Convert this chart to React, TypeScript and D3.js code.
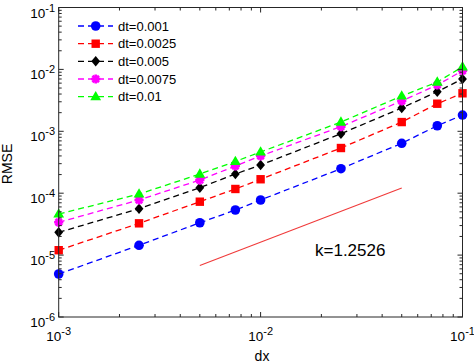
import React from "react";
import * as d3 from "d3";

const dxValues = [0.001, 0.0025, 0.005, 0.0075, 0.01, 0.025, 0.05, 0.075, 0.1];
const seriesNames = ["dt=0.001", "dt=0.0025", "dt=0.005", "dt=0.0075", "dt=0.01"];
const rmse001 = [4.95e-6, 1.44e-5, 3.33e-5, 5.35e-5, 7.77e-5, 2.49e-4, 6.4e-4, 1.23e-3, 1.83e-3];
const rmse0025 = [1.2e-5, 3.26e-5, 7.29e-5, 1.17e-4, 1.68e-4, 5.37e-4, 1.41e-3, 2.79e-3, 4.11e-3];
const rmse005 = [2.33e-5, 5.62e-5, 1.23e-4, 2.04e-4, 2.85e-4, 9.15e-4, 2.38e-3, 4.37e-3, 7.0e-3];
const rmse0075 = [3.39e-5, 7.77e-5, 1.63e-4, 2.75e-4, 3.99e-4, 1.19e-3, 3.09e-3, 5.6e-3, 9.5e-3];
const rmse01 = [4.61e-5, 9.7e-5, 2.04e-4, 3.26e-4, 4.63e-4, 1.41e-3, 3.72e-3, 6.25e-3, 1.1e-2];
const refLineX = [0.005, 0.05];
const refLineY = [6.8e-6, 1.21e-4];
const slopeLabel = "k=1.2526";
const xTickExps = [-3, -2, -1];
const yTickExps = [-6, -5, -4, -3, -2, -1];

const colors = ["#0000ff", "#ff0000", "#000000", "#ff00ff", "#00ff00"];
const markers = ["circle", "square", "diamond", "star", "triangle"];

const W = 474, H = 364;
const L = 58.7, R = 462.5, T = 7.5, B = 317;
const FONT = "'Liberation Sans', Arial, sans-serif";

function Marker({ type, x, y, color }: { type: string; x: number; y: number; color: string }) {
  if (type === "circle") return <circle cx={x} cy={y} r={4.8} fill={color} />;
  if (type === "square") return <rect x={x - 4.2} y={y - 4.2} width={8.4} height={8.4} fill={color} />;
  if (type === "diamond")
    return <path d={`M${x},${y - 5.3}L${x + 4.4},${y}L${x},${y + 5.3}L${x - 4.4},${y}Z`} fill={color} />;
  if (type === "triangle")
    return <path d={`M${x},${y - 5.8}L${x + 5.4},${y + 3.6}L${x - 5.4},${y + 3.6}Z`} fill={color} />;
  // star (asterisk)
  const r = 4.6;
  const segs = [0, 45, 90, 135].map((a) => {
    const rad = (a * Math.PI) / 180;
    return `M${x - r * Math.cos(rad)},${y - r * Math.sin(rad)}L${x + r * Math.cos(rad)},${y + r * Math.sin(rad)}`;
  });
  return (
    <g>
      <path d={segs.join("")} stroke={color} strokeWidth={2.6} fill="none" />
      <circle cx={x} cy={y} r={2.2} fill={color} />
    </g>
  );
}

export default function App() {
  const x = d3.scaleLog().domain([1e-3, 1e-1]).range([L, R]);
  const y = d3.scaleLog().domain([1e-6, 1e-1]).range([B, T]);
  const series = [rmse001, rmse0025, rmse005, rmse0075, rmse01];
  const line = d3
    .line<number>()
    .x((_, i) => x(dxValues[i]))
    .y((v) => y(v));

  const xMinor: number[] = [];
  for (let e = -3; e < -1; e++) for (let m = 2; m <= 9; m++) xMinor.push(m * Math.pow(10, e));
  const yMinor: number[] = [];
  for (let e = -6; e < -1; e++) for (let m = 2; m <= 9; m++) yMinor.push(m * Math.pow(10, e));

  const axisColor = "#262626";
  const legendRows = [26, 43.7, 61.3, 79, 96.7];

  return (
    <svg width={W} height={H} style={{ position: "absolute", left: 0, top: 0, background: "#fff" }} fontFamily={FONT}>
      {series.map((s, k) => (
        <path key={"l" + k} d={line(s) || ""} fill="none" stroke={colors[k]} strokeWidth={1.3} strokeDasharray="6,4" />
      ))}
      {series.map((s, k) =>
        s.map((v, i) => <Marker key={`m${k}-${i}`} type={markers[k]} x={x(dxValues[i])} y={y(v)} color={colors[k]} />)
      )}
      <line x1={x(refLineX[0])} y1={y(refLineY[0])} x2={x(refLineX[1])} y2={y(refLineY[1])} stroke="#f03a3a" strokeWidth={1.1} />
      <text x={315} y={256} fontSize={17} fill="#000">{slopeLabel}</text>

      <rect x={L} y={T} width={R - L} height={B - T} fill="none" stroke={axisColor} strokeWidth={1} />
      {xTickExps.map((e) => {
        const px = x(Math.pow(10, e));
        return (
          <g key={"xt" + e}>
            <line x1={px} x2={px} y1={B} y2={B - 5} stroke={axisColor} />
            <line x1={px} x2={px} y1={T} y2={T + 5} stroke={axisColor} />
          </g>
        );
      })}
      {xMinor.map((v, i) => {
        const px = x(v);
        return (
          <g key={"xm" + i}>
            <line x1={px} x2={px} y1={B} y2={B - 3} stroke={axisColor} />
            <line x1={px} x2={px} y1={T} y2={T + 3} stroke={axisColor} />
          </g>
        );
      })}
      {yTickExps.map((e) => {
        const py = y(Math.pow(10, e));
        return (
          <g key={"yt" + e}>
            <line x1={L} x2={L + 5} y1={py} y2={py} stroke={axisColor} />
            <line x1={R} x2={R - 5} y1={py} y2={py} stroke={axisColor} />
          </g>
        );
      })}
      {yMinor.map((v, i) => {
        const py = y(v);
        return (
          <g key={"ym" + i}>
            <line x1={L} x2={L + 3} y1={py} y2={py} stroke={axisColor} />
            <line x1={R} x2={R - 3} y1={py} y2={py} stroke={axisColor} />
          </g>
        );
      })}

      {xTickExps.map((e) => (
        <text key={"xl" + e} x={x(Math.pow(10, e))} y={340.5} fontSize={13.5} textAnchor="middle" fill="#000">
          10<tspan fontSize={11} dy={-6}>{String(e)}</tspan>
        </text>
      ))}
      {yTickExps.map((e) => (
        <text key={"yl" + e} x={55} y={y(Math.pow(10, e)) + 10} fontSize={13.5} textAnchor="end" fill="#000">
          10<tspan fontSize={11} dy={-6}>{String(e)}</tspan>
        </text>
      ))}

      <text x={262} y={361} fontSize={14} textAnchor="middle" fill="#000">dx</text>
      <text transform="translate(12,164) rotate(-90)" fontSize={14} textAnchor="middle" fill="#000">RMSE</text>

      {seriesNames.map((n, k) => (
        <g key={"lg" + k}>
          <line x1={78} x2={113} y1={legendRows[k]} y2={legendRows[k]} stroke={colors[k]} strokeWidth={1.3} strokeDasharray="6,4" />
          <Marker type={markers[k]} x={95.7} y={legendRows[k]} color={colors[k]} />
          <text x={118} y={legendRows[k] + 4.6} fontSize={13} fill="#000">{n}</text>
        </g>
      ))}
    </svg>
  );
}
